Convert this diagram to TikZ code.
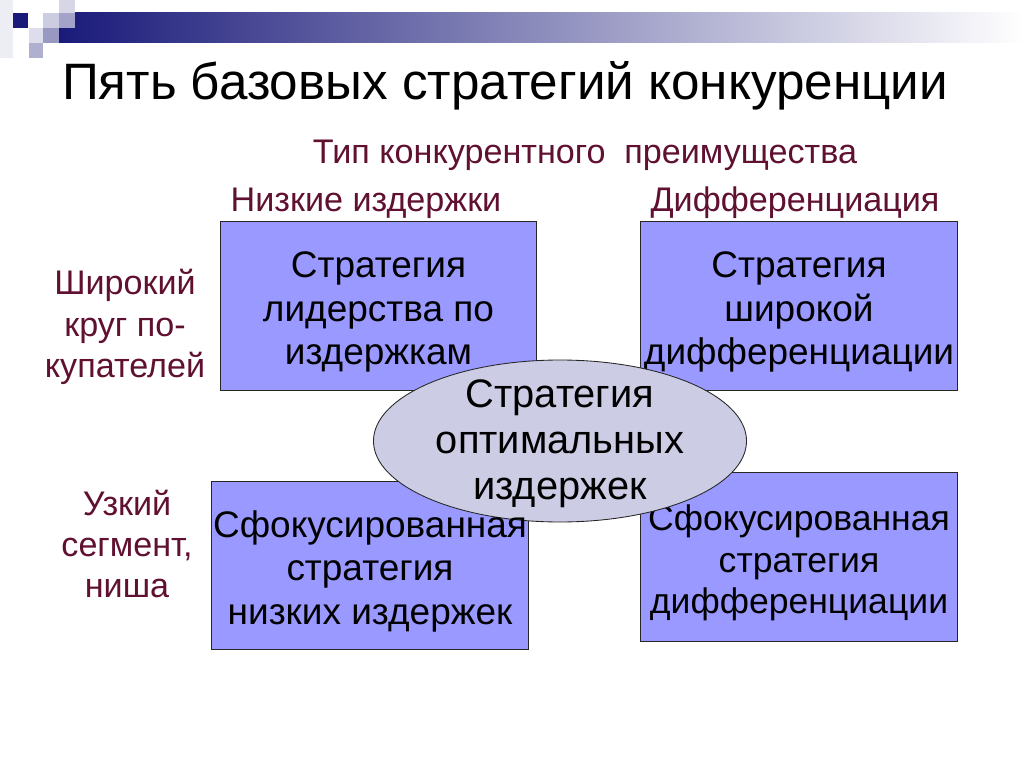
\documentclass[tikz,border=0pt]{standalone}
\usepackage{fontspec}
\setmainfont{Liberation Sans}
\usetikzlibrary{shapes.geometric}
\definecolor{boxblue}{RGB}{153,153,255}
\definecolor{ovalgray}{RGB}{204,204,228}
\definecolor{labelred}{RGB}{96,16,48}
\definecolor{navy}{RGB}{26,26,122}
\definecolor{barmid}{RGB}{150,150,182}
\tikzset{
  strat/.style={draw=black!85, line width=0.6pt, fill=boxblue, minimum width=222.5pt,
    minimum height=118.5pt, inner sep=0pt},
  strattext/.style={align=center, inner sep=0pt, font=\fontsize{26}{30.6}\selectfont},
  axislabel/.style={text=labelred, align=center, font=\fontsize{24}{29}\selectfont}
}
\begin{document}
\begin{tikzpicture}[x=0.703125pt, y=-0.703125pt]
  \useasboundingbox[fill=white] (0,0) rectangle (1024,767);
  % top-left decoration
  \fill[navy!8] (0,0) rectangle (13,58);
  \shade[left color=navy, middle color=barmid, right color=white] (59,13) rectangle (1024,43);
  \fill[navy] (13,13) rectangle (28,28);
  \fill[navy!22] (43,13) rectangle (59,28);
  \fill[navy!18] (59,0) rectangle (75,13);
  \fill[navy!40] (59,13) rectangle (75,28);
  \fill[navy!15] (29,28) rectangle (43,43);
  \fill[navy!45] (43,28) rectangle (59,43);
  \fill[navy!35] (29,43) rectangle (43,58);
  % title
  \node[font=\fontsize{36}{42}\selectfont] (title) at (505,86) {Пять базовых стратегий конкуренции};
  % axis labels
  \node[axislabel] (advtype) at (585,155) {Тип конкурентного\ \ преимущества};
  \node[axislabel] (lowcost) at (366,203) {Низкие издержки};
  \node[axislabel] (differ) at (795,203) {Дифференциация};
  \node[axislabel] (broad) at (125,327) {Широкий\\круг по-\\купателей};
  \node[axislabel] (narrow) at (127,544) {Узкий\\сегмент,\\ниша};
  % strategies
  \node[strat] (leader) at (378.5,306) {};
  \node[strattext] (leadertext) at (378.5,312) {Стратегия\\лидерства по\\издержкам};
  \node[strat] (broaddiff) at (799,306) {};
  \node[strattext] (broaddifftext) at (799,312) {Стратегия\\широкой\\дифференциации};
  \node[strat] (focusdiff) at (799,557) {};
  \node[strattext, font=\fontsize{25}{29.3}\selectfont] (focusdifftext) at (799,563) {Сфокусированная\\стратегия\\дифференциации};
  \node[strat] (focuslow) at (370,565.5) {};
  % centre oval
  \node[ellipse, draw=black!85, line width=0.6pt, fill=ovalgray, minimum width=262.3pt,
    minimum height=113.9pt, inner sep=0pt] (optimal) at (560,441) {};
  \node[align=center, inner sep=0pt, font=\fontsize{28}{32.3}\selectfont] (optimaltext) at (560,444) {Стратегия\\оптимальных\\издержек};
  \node[strattext] (focuslowtext) at (370,571) {Сфокусированная\\стратегия\\низких издержек};
\end{tikzpicture}
\end{document}
